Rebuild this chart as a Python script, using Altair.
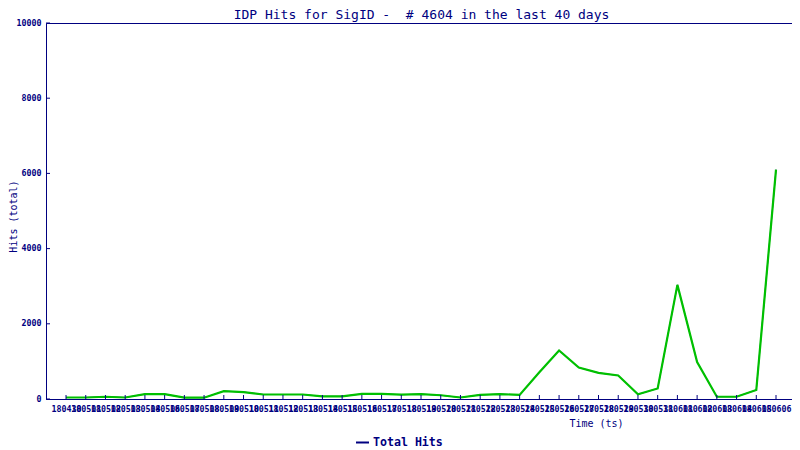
import altair as alt
import pandas as pd

# ---- data ----
title_text = "IDP Hits for SigID - \u00a0# 4604 in the last 40 days"
dates = [
    "180430", "180501", "180502", "180503", "180504", "180506", "180507",
    "180508", "180509", "180510", "180511", "180512", "180513", "180514",
    "180515", "180516", "180517", "180518", "180519", "180520", "180521",
    "180522", "180523", "180524", "180525", "180526", "180527", "180528",
    "180529", "180530", "180531", "180601", "180602", "180603", "180604",
    "180605", "180606",
]
hits = [
    40, 40, 60, 40, 130, 130, 35,
    35, 210, 185, 120, 120, 120, 70,
    70, 135, 135, 115, 130, 100, 40,
    110, 130, 110, 710, 1290, 835, 695,
    625, 123, 280, 3035, 985, 60, 60,
    240, 6100,
]
series_name = "Total Hits"
y_ticks = [0, 2000, 4000, 6000, 8000, 10000]

NAVY = "#000080"
GREEN = "#00c000"
MONO = "DejaVu Sans Mono"

df = pd.DataFrame({"ts": dates, "hits": hits, "series": [series_name] * len(dates)})
yt = pd.DataFrame({"v": y_ticks})
tdf = pd.DataFrame({"t": [title_text]})

PLOT_H = 376

x_scale = alt.Scale(type="point", padding=0.913, align=0.556)
y_scale = alt.Scale(domain=[0, 10000], nice=False)

x_axis = alt.Axis(
    title="Time (ts)", labelAngle=0, labelOverlap=False, labelBound=False,
    labelFlush=False, ticks=False, domainColor=NAVY, labelFont=MONO,
    labelFontSize=8.3, labelFontWeight="bold", labelColor=NAVY, labelPadding=5,
    titleX=550, titleY=24, titleFont=MONO, titleFontSize=10,
    titleFontWeight="normal", titleColor=NAVY, titleAlign="center",
    titleBaseline="middle", grid=False,
)
y_axis = alt.Axis(
    title="Hits (total)", values=y_ticks, format="d", ticks=False, grid=False,
    domainColor=NAVY, labelFont=MONO, labelFontSize=8.3, labelFontWeight="bold",
    labelColor=NAVY, labelPadding=5, titleX=-33, titleY=193, titleAngle=270,
    titleFont=MONO, titleFontSize=10, titleFontWeight="normal",
    titleColor=NAVY, titleAlign="center", titleBaseline="middle",
)

X = alt.X("ts:N", sort=dates, scale=x_scale, axis=x_axis)

# navy line underneath only provides the legend entry
legend_line = alt.Chart(df).mark_line(strokeWidth=1).encode(
    x=X,
    y=alt.Y("hits:Q", scale=y_scale, axis=y_axis),
    color=alt.Color(
        "series:N", scale=alt.Scale(range=[NAVY]),
        legend=alt.Legend(
            orient="none", legendX=309, legendY=412, title=None,
            symbolType="stroke", symbolSize=169, symbolStrokeWidth=2,
            labelFont=MONO, labelFontSize=11.6, labelFontWeight="bold",
            labelColor=NAVY, labelOffset=3, padding=0,
        ),
    ),
)

main_line = alt.Chart(df).mark_line(strokeWidth=2.2, color=GREEN).encode(
    x=X,
    y=alt.Y("hits:Q", scale=y_scale, axis=y_axis),
)

x_ticks = alt.Chart(df).mark_rule(color=NAVY, strokeWidth=1).encode(
    x=X,
    y=alt.value(PLOT_H), y2=alt.value(PLOT_H - 4),
)

y_tick_marks = alt.Chart(yt).mark_rule(color=NAVY, strokeWidth=1).encode(
    y=alt.Y("v:Q", scale=y_scale, axis=y_axis),
    x=alt.value(0), x2=alt.value(4),
)

title_mark = alt.Chart(tdf).mark_text(
    font=MONO, fontSize=13, color=NAVY, align="center", baseline="middle",
).encode(text="t:N", x=alt.value(375.5), y=alt.value(-8))

chart = alt.layer(
    legend_line, main_line, x_ticks, y_tick_marks, title_mark
).properties(
    width=746,
    height=PLOT_H,
    autosize=alt.AutoSizeParams(type="none"),
    padding={"left": 38, "top": 15, "right": 0, "bottom": 50},
    background="white",
).configure_view(stroke=NAVY, strokeWidth=1)

chart.save("out.html", embed_options={"renderer": "svg", "actions": False})
